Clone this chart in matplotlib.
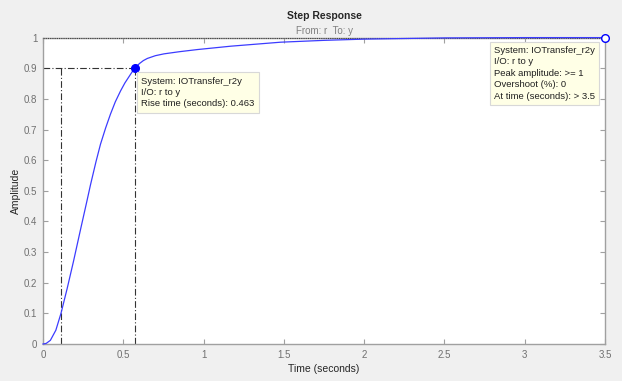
import matplotlib
matplotlib.use("Agg")
import matplotlib.pyplot as plt

plt.rcParams['font.family'] = ['Liberation Sans', 'DejaVu Sans']

# Step response
t = [0, 0.02, 0.046, 0.08, 0.112, 0.15, 0.19, 0.233, 0.275, 0.296, 0.33, 0.358, 0.39,
     0.42, 0.45, 0.483, 0.51, 0.535, 0.555, 0.571, 0.6, 0.625, 0.65, 0.7, 0.754, 0.85,
     0.962, 1.17, 1.48, 1.75, 2.0, 2.5, 3.0, 3.5]
y = [0, 0.002, 0.012, 0.045, 0.1, 0.18, 0.27, 0.372, 0.47, 0.52, 0.595, 0.652, 0.705,
     0.75, 0.79, 0.826, 0.852, 0.872, 0.888, 0.9, 0.915, 0.925, 0.932, 0.941, 0.947, 0.954,
     0.961, 0.972, 0.985, 0.991, 0.995, 0.999, 1.0, 1.0]

rise_t10, rise_t90 = 0.112, 0.571
rise_y10, rise_y90 = 0.1, 0.9
peak_t, peak_y = 3.5, 1.0
steady = 1.0

xticks = [0, 0.5, 1, 1.5, 2, 2.5, 3, 3.5]
xticklabels = ['0', '0.5', '1', '1.5', '2', '2.5', '3', '3.5']
yticks = [0, 0.1, 0.2, 0.3, 0.4, 0.5, 0.6, 0.7, 0.8, 0.9, 1]
yticklabels = ['0', '0.1', '0.2', '0.3', '0.4', '0.5', '0.6', '0.7', '0.8', '0.9', '1']

tip1 = "System: IOTransfer_r2y\nI/O: r to y\nRise time (seconds): 0.463"
tip2 = "System: IOTransfer_r2y\nI/O: r to y\nPeak amplitude: >= 1\nOvershoot (%): 0\nAt time (seconds): > 3.5"

fig = plt.figure(figsize=(6.22, 3.81), dpi=100, facecolor='#f0f0f0')
ax = fig.add_axes([43/622, 1-344/381, (605-43)/622, (344-37.6)/381])
ax.set_facecolor('white')

ax.set_xlim(0, 3.5)
ax.set_ylim(0, 1)

# steady-state dotted line (drawn over the top spine)
ax.plot([0, 3.5], [steady, steady], color='#404040', linestyle=(0, (1, 1)), linewidth=0.8,
        zorder=3, clip_on=False)

# rise-time lines
dashdot = (0, (6, 2, 1, 2))
ax.plot([0, rise_t90], [rise_y90, rise_y90], color='#333333', linestyle=dashdot, linewidth=0.8, zorder=2)
ax.plot([rise_t10, rise_t10], [0, rise_y90], color='#333333', linestyle=dashdot, linewidth=0.8, zorder=2)
ax.plot([rise_t90, rise_t90], [0, rise_y90], color='#333333', linestyle=dashdot, linewidth=0.8, zorder=2)

ax.plot(t, y, color='#3c3cff', linewidth=0.9, zorder=4, clip_on=False)
ax.plot([rise_t90], [rise_y90], 'o', color='#0000ff', markersize=5.5, zorder=5)
ax.plot([peak_t], [peak_y], 'o', markerfacecolor='white', markeredgecolor='#0000ff',
        markersize=5.5, markeredgewidth=1.0, zorder=6, clip_on=False)

ax.set_xticks(xticks)
ax.set_xticklabels(xticklabels)
ax.set_yticks(yticks)
ax.set_yticklabels(yticklabels)
ax.tick_params(direction='in', length=3.5, width=0.8, colors='#a0a0a0', labelcolor='#707070',
               labelsize=7, top=True, right=True, pad=4)
for s in ax.spines.values():
    s.set_color('#a0a0a0')
    s.set_linewidth(1.0)

ax.set_xlabel('Time (seconds)', fontsize=7.5, color='#262626', labelpad=3)
ax.set_ylabel('Amplitude', fontsize=7.5, color='#262626', labelpad=2)

fig.text(324/622, 1-16/381, 'Step Response', ha='center', va='center',
         fontsize=7.5, fontweight='bold', color='#262626')
fig.text(324/622, 1-31/381, 'From: r  To: y', ha='center', va='center',
         fontsize=7, color='#808080')

box = dict(boxstyle='square,pad=0.45', facecolor='#ffffe6', edgecolor='#d8d8d8', linewidth=0.8)
fig.text(141/622, 1-76.5/381, tip1, ha='left', va='top', fontsize=6.8, color='#202020',
         linespacing=1.35, bbox=box, zorder=10)
fig.text(494/622, 1-46/381, tip2, ha='left', va='top', fontsize=6.8, color='#202020',
         linespacing=1.35, bbox=box, zorder=10)

fig.savefig('out.png', dpi=100, facecolor=fig.get_facecolor())
